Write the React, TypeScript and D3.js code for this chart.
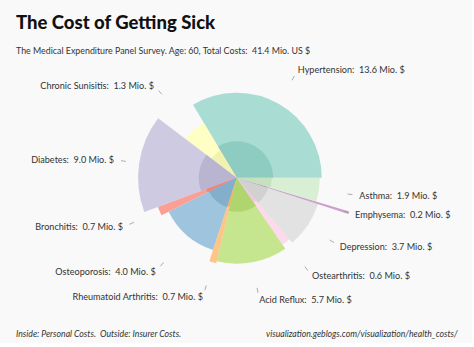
import React from "react";
import * as d3 from "d3";

const categories = ["Hypertension", "Chronic Sunisitis", "Diabetes", "Bronchitis", "Osteoporosis", "Rheumatoid Arthritis", "Acid Reflux", "Ostearthritis", "Depression", "Emphysema", "Asthma"];
const totalCost = [13.6, 1.3, 9.0, 0.7, 4.0, 0.7, 5.7, 0.6, 3.7, 0.2, 1.9];
const patientShare = [33.6, 6.1, 16.0, 1.7, 12.6, 1.3, 13.3, 1.7, 8.75, 0.36, 4.64];
const costPerPatient = [72.3, 41, 97.2, 70.6, 57.8, 77.4, 74, 65.6, 73.1, 138, 68.9];
const personalPerPatient = [13.3, 10, 14.4, 10.5, 9.6, 9, 11.6, 9, 10.9, 10, 12.3];

const W = 474, H = 347;
const cx = 236.7, cy = 177.7;

export default function App() {
  const rScale = d3.scaleSqrt().domain([0, 100]).range([0, 100]);
  const color = d3.scaleOrdinal<number, string>().domain(d3.range(categories.length)).range(d3.schemeSet3);
  const pie = d3.pie<number>().sort(null).value((i) => patientShare[i]).startAngle(Math.PI / 2).endAngle(Math.PI / 2 - 2 * Math.PI);
  const arcs = pie(d3.range(categories.length));
  const arc = d3.arc<any>();
  const font = "Lato, 'Open Sans', sans-serif";

  return (
    <svg width={W} height={H} style={{ position: "absolute", left: 0, top: 0 }}>
      <rect x={0} y={0} width={W} height={H} fill="#ffffff" />
      <rect x={0} y={0} width={472} height={343} fill="#f9f9f9" />
      <text x={16} y={29} fontFamily={font} fontWeight={900} fontSize={18.5} fill="#111">The Cost of Getting Sick</text>
      <text x={16} y={54} fontFamily={font} fontSize={8.85} fill="#333" style={{ whiteSpace: "pre" }}>The Medical Expenditure Panel Survey. Age: 60, Total Costs:  41.4 Mio. US $</text>
      <g transform={`translate(${cx},${cy})`}>
        {arcs.map((a) => {
          const i = a.data;
          const c = color(i);
          return (
            <path key={"o" + i} d={arc({ startAngle: a.startAngle, endAngle: a.endAngle, innerRadius: 0, outerRadius: rScale(costPerPatient[i]) }) || ""} fill={c} fillOpacity={0.75} />
          );
        })}
        {arcs.map((a) => {
          const i = a.data;
          const c = d3.rgb(color(i)).darker(0.2).toString();
          return (
            <path key={"i" + i} d={arc({ startAngle: a.startAngle, endAngle: a.endAngle, innerRadius: 0, outerRadius: rScale(personalPerPatient[i]) }) || ""} fill={c} fillOpacity={0.7} />
          );
        })}
        {arcs.map((a) => {
          const i = a.data;
          const m = (a.startAngle + a.endAngle) / 2;
          const sx = Math.sin(m), sy = -Math.cos(m);
          const norm = ((m % (2 * Math.PI)) + 2 * Math.PI) % (2 * Math.PI);
          const right = norm < Math.PI;
          return (
            <g key={"l" + i}>
              <line x1={112 * sx} y1={112 * sy} x2={117 * sx} y2={117 * sy} stroke="#999" strokeWidth={0.8} />
              <text x={124 * sx} y={124 * sy} dy="0.35em" textAnchor={right ? "start" : "end"} fontFamily={font} fontSize={9.1} fill="#333" style={{ whiteSpace: "pre" }}>
                {`${categories[i]}:  ${totalCost[i].toFixed(1)} Mio. $`}
              </text>
            </g>
          );
        })}
      </g>
      <text x={16} y={337} fontFamily={font} fontStyle="italic" fontSize={8.7} fill="#333" style={{ whiteSpace: "pre" }}>Inside: Personal Costs.  Outside: Insurer Costs.</text>
      <text x={266} y={337} fontFamily={font} fontStyle="italic" fontSize={8.7} fill="#333">visualization.geblogs.com/visualization/health_costs/</text>
    </svg>
  );
}
